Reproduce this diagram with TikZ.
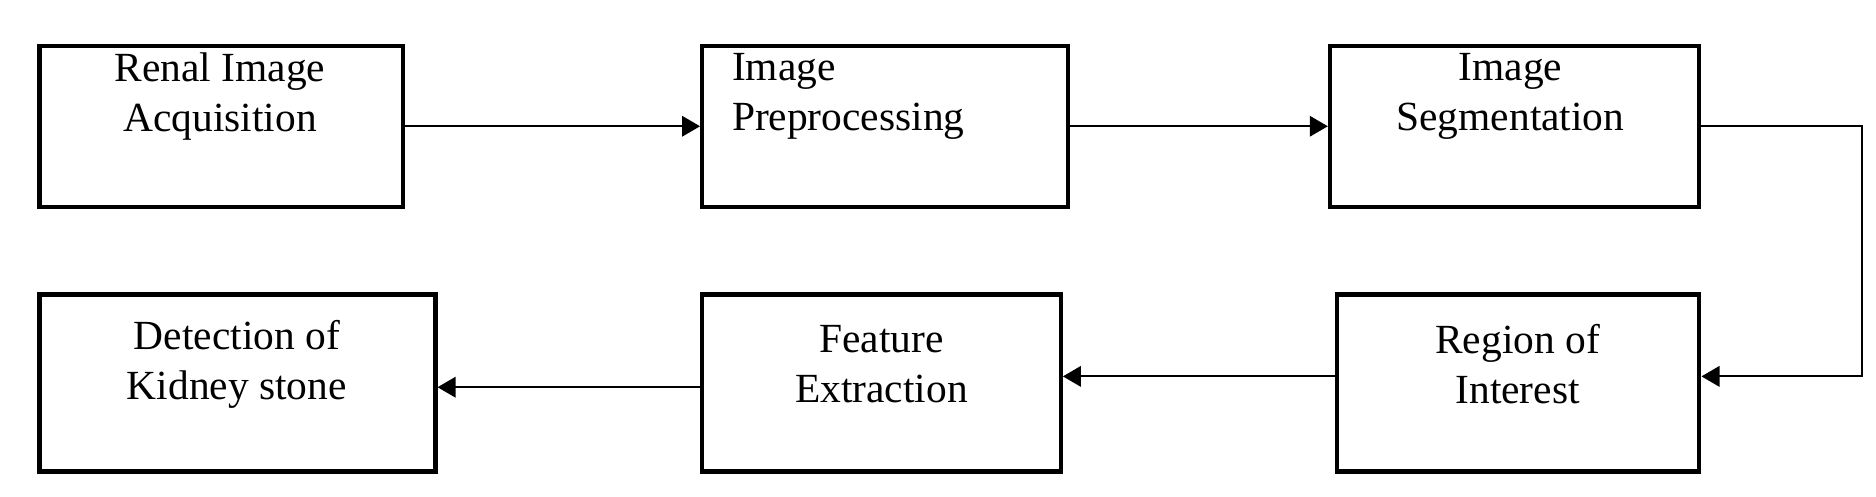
\documentclass[tikz,border=0pt]{standalone}
\usepackage{fontspec}
\setmainfont{Liberation Serif}
\usetikzlibrary{arrows.meta}
\begin{document}
\begin{tikzpicture}[x=0.01cm,y=-0.01cm,
  box/.style={draw,line width=1.0pt,rectangle,inner sep=0pt},
  txt/.style={font=\fontsize{9.8}{11.8}\selectfont,inner sep=0pt},
  conn/.style={line width=0.5pt,-{Triangle[length=0.15cm,width=0.17cm]}}]
\useasboundingbox (0,0) rectangle (1560,413);
\node[box,minimum width=3.02cm,minimum height=1.34cm] (b1) at (184,105) {};
\node[box,minimum width=3.04cm,minimum height=1.34cm] (b2) at (736,105) {};
\node[box,minimum width=3.07cm,minimum height=1.34cm] (b3) at (1259.5,105) {};
\node[box,minimum width=3.29cm,minimum height=1.47cm] (b4) at (197.5,318.5) {};
\node[box,minimum width=2.98cm,minimum height=1.47cm] (b5) at (733,318.5) {};
\node[box,minimum width=3.01cm,minimum height=1.47cm] (b6) at (1262.5,318.5) {};
\node[txt,align=center] (t1) at (183,80) {Renal Image\\Acquisition};
\node[txt,align=left,anchor=west] (t2) at (608,80) {Image\\Preprocessing};
\node[txt,align=center] (t3) at (1256,80) {Image\\Segmentation};
\node[txt,align=center] (t4) at (197,303) {Detection of\\Kidney stone};
\node[txt,align=center] (t5) at (733,303) {Feature\\Extraction};
\node[txt,align=center] (t6) at (1262,303) {Region of\\Interest};
\coordinate (c1) at (1548,105);
\coordinate (c2) at (1548,313);
\draw[conn] (b1.east) -- (b2.west);
\draw[conn] (b2.east) -- (b3.west);
\draw[conn] (b3.east) -- (c1) -- (c2) -- (c2 -| b6.east);
\draw[conn] (b6.west |- c2) -- (c2 -| b5.east);
\draw[conn] (b5.west |- 0,322) -- (b4.east |- 0,322);
\end{tikzpicture}
\end{document}
